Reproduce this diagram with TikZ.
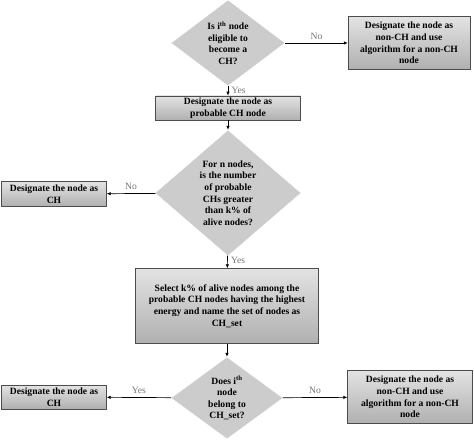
\documentclass[tikz,border=0pt]{standalone}
\usepackage{fontspec}
\setmainfont{Liberation Serif}
\usepackage{tikz}
\usetikzlibrary{positioning, arrows.meta, shapes.geometric}

\begin{document}
\begin{tikzpicture}[
    x=1pt, y=-1pt,
    proc/.style={draw=gray!60!black, top color=gray!22, bottom color=gray!62, align=center, inner sep=2pt, font=\bfseries\fontsize{9.6}{11.6}\selectfont},
    dec/.style={draw=white, fill=gray!40, diamond, align=center, inner sep=-3pt, font=\bfseries\fontsize{9.6}{11.6}\selectfont},
    flow/.style={-{Latex[length=4pt, width=3.5pt]}, line width=0.7pt},
    ans/.style={text=gray!90!black, font=\fontsize{9.6}{11}\selectfont},
]
\useasboundingbox (0,0) rectangle (474,440);

\node[dec, minimum width=114, minimum height=86] (elig) at (228, 43) {Is i\textsuperscript{th} node\\eligible to\\become a\\CH?};
\node[proc, minimum width=122, minimum height=53] (nonch1) at (409, 43) {Designate the node as\\non-CH and use\\algorithm for a non-CH\\node};
\node[proc, minimum width=145, minimum height=24] (prob) at (228, 108) {Designate the node as\\probable CH node};
\node[dec, minimum width=146, minimum height=126] (count) at (228, 193) {For n nodes,\\is the number\\of probable\\CHs greater\\than k\% of\\alive nodes?};
\node[proc, minimum width=105, minimum height=25] (ch1) at (54, 194) {Designate the node as\\CH};
\node[proc, minimum width=183, minimum height=75] (sel) at (227, 306) {Select k\% of alive nodes among the\\probable CH nodes having the highest\\energy and name the set of nodes as\\CH\_set};
\node[dec, minimum width=112, minimum height=82] (belong) at (227, 398) {Does i\textsuperscript{th}\\node\\belong to\\CH\_set?};
\node[proc, minimum width=105, minimum height=24] (ch2) at (54, 397) {Designate the node as\\CH};
\node[proc, minimum width=125, minimum height=53] (nonch2) at (410, 397) {Designate the node as\\non-CH and use\\algorithm for a non-CH\\node};

\draw[flow] (elig) -- node[ans, above] {No} (nonch1);
\draw[flow] (elig) -- node[ans, right, pos=0.4] {Yes} (prob);
\draw[flow] (prob) -- (count);
\draw[flow] (count) -- node[ans, above] {No} (ch1);
\draw[flow] (count) -- node[ans, right, pos=0.4] {Yes} (sel);
\draw[flow] (sel) -- (belong);
\draw[flow] (belong) -- node[ans, above] {Yes} (ch2);
\draw[flow] (belong) -- node[ans, above] {No} (nonch2);
\end{tikzpicture}
\end{document}
